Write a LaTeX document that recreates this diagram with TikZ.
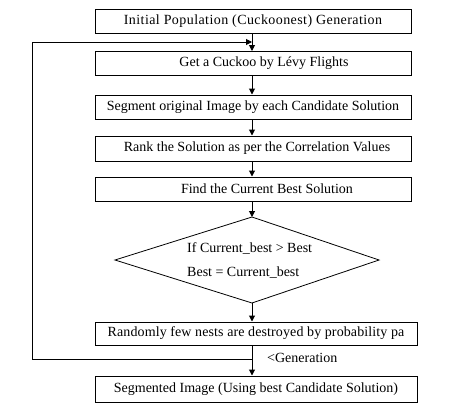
\documentclass[tikz,border=0pt]{standalone}
\usepackage{fontspec}
\setmainfont{Liberation Serif}
\usetikzlibrary{arrows.meta}
\begin{document}
\begin{tikzpicture}[x=1pt,y=-1pt,
  txt/.style={font=\fontsize{14}{16}\selectfont},
  stepbox/.style={draw,line width=1pt,minimum height=24pt,inner sep=0pt,txt},
  arr/.style={line width=1pt,-{Triangle[length=6pt,width=6pt]}},
  ln/.style={line width=1pt}]
\useasboundingbox (0,0) rectangle (474,410);
\node[stepbox,minimum width=316pt] (b1) at (253,21.5) {\addfontfeature{LetterSpace=3}Initial Population (Cuckoonest) Generation};
\node[stepbox,minimum width=316pt] (b2) at (253,63.5) {\hspace*{22pt}Get a Cuckoo by Lévy Flights};
\node[stepbox,minimum width=316pt] (b3) at (253,107) {Segment original Image by each Candidate Solution};
\node[stepbox,minimum width=316pt,minimum height=25pt] (b4) at (253,148.5) {\hspace*{8pt}Rank the Solution as per the Correlation Values};
\node[stepbox,minimum width=316pt] (b5) at (253,189) {\hspace*{28pt}Find the Current Best Solution};
\coordinate (dt) at (252,217);
\coordinate (dr) at (379,260);
\coordinate (dbt) at (252,303);
\coordinate (dl) at (115,260);
\draw[line width=0.8pt] (dt) -- (dr) -- (dbt) -- (dl) -- cycle;
\node[txt,align=left,anchor=west,inner sep=0pt] (d) at (187,260) {If Current\_best > Best\\[8pt]Best = Current\_best};
\node[stepbox,minimum width=322pt,minimum height=23pt] (b6) at (256,333.5) {\addfontfeature{LetterSpace=0.8}Randomly few nests are destroyed by probability pa};
\node[stepbox,minimum width=322pt,minimum height=26pt] (b7) at (256,389) {Segmented Image (Using best Candidate Solution)};
\coordinate (j2) at (252,42);
\coordinate (j1) at (252,359);
\coordinate (lt) at (32,42);
\coordinate (lb) at (32,359);
\draw[arr] (b1.south -| j2) -- (b2.north -| j2);
\draw[arr] (b2.south -| j2) -- (b3.north -| j2);
\draw[arr] (b3.south -| j2) -- (b4.north -| j2);
\draw[arr] (b4.south -| j2) -- (b5.north -| j2);
\draw[arr] (b5.south -| j2) -- (dt);
\draw[arr] (dbt) -- (b6.north -| j2);
\draw[arr] (b6.south -| j2) -- (b7.north -| j2);
\draw[arr] (j1) -- (lb) -- (lt) -- (j2);
\node[anchor=west,inner sep=0pt,txt] (gen) at (267,358) {<Generation};
\end{tikzpicture}
\end{document}
